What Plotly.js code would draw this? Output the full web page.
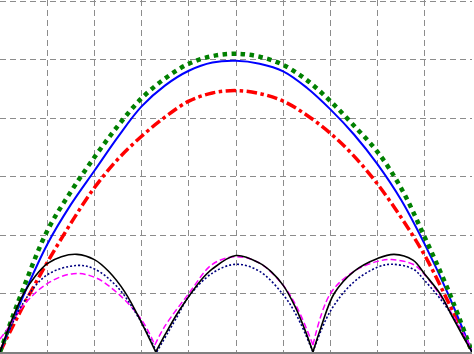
<!DOCTYPE html>
<html>
<head>
<meta charset="utf-8">
<script src="https://cdn.plot.ly/plotly-3.0.1.min.js"></script>
<style>html,body{margin:0;padding:0;background:#fff;}#chart{width:474px;height:354px;}</style>
</head>
<body>
<div id="chart"></div>
<script>
// Large arches
const bigX = [0, 0.5, 1, 1.5, 2, 2.5, 3, 3.5, 4, 4.5, 5, 5.5, 6, 6.5, 7, 7.5, 8, 8.5, 9, 9.5, 10];
const greenY = [0, 1.1, 2.07, 2.74, 3.33, 3.87, 4.34, 4.68, 4.93, 5.06, 5.10, 5.05, 4.91, 4.65, 4.29, 3.87, 3.42, 2.8, 1.96, 1.05, 0];
const blueY  = [0, 0.97, 1.84, 2.52, 3.1, 3.68, 4.2, 4.56, 4.81, 4.95, 4.98, 4.93, 4.80, 4.52, 4.15, 3.72, 3.21, 2.6, 1.84, 0.98, 0];
const redY   = [0, 0.8, 1.53, 2.2, 2.81, 3.3, 3.69, 4.02, 4.29, 4.43, 4.47, 4.42, 4.29, 4.05, 3.74, 3.35, 2.87, 2.3, 1.65, 0.85, 0];

// Small arches (null separates the three arches)
const blackX = [0, 0.25, 0.5, 0.75, 1, 1.3, 1.63, 2, 2.3, 2.65, 3, 3.3, null,
                3.3, 3.5, 3.75, 4, 4.25, 4.5, 5, 5.5, 5.75, 6, 6.25, 6.45, 6.63, null,
                6.63, 6.8, 7.08, 7.5, 8, 8.35, 8.75, 9, 9.32, 9.6, 9.8, 10];
const blackY = [0, 0.55, 1.0, 1.3, 1.51, 1.63, 1.67, 1.58, 1.38, 1.02, 0.5, 0, null,
                0, 0.3, 0.65, 0.95, 1.22, 1.42, 1.65, 1.52, 1.37, 1.14, 0.78, 0.4, 0, null,
                0, 0.42, 1.0, 1.38, 1.6, 1.67, 1.57, 1.33, 1.0, 0.58, 0.28, 0];

const navyX = [0, 0.5, 1, 1.63, 2, 2.5, 3, 3.32, null,
               3.32, 3.75, 4, 4.5, 5, 5.5, 6, 6.3, 6.63, null,
               6.63, 7, 7.5, 8, 8.3, 8.75, 9, 9.5, 10];
const navyY = [0, 0.85, 1.32, 1.48, 1.42, 1.1, 0.5, 0, null,
               0, 0.6, 0.95, 1.35, 1.5, 1.38, 0.98, 0.6, 0, null,
               0, 0.7, 1.2, 1.45, 1.5, 1.42, 1.22, 0.72, 0];

const magentaX = [0, 0.25, 0.5, 1, 1.55, 2, 2.5, 3, 3.28, null,
                  3.28, 3.5, 4, 4.5, 5, 5.5, 6, 6.3, 6.63, null,
                  6.63, 7, 7.5, 8, 8.3, 8.75, 9, 9.5, 10];
const magentaY = [0.22, 0.5, 0.8, 1.17, 1.34, 1.28, 1.0, 0.55, 0.12, null,
                  0.12, 0.45, 1.0, 1.5, 1.63, 1.52, 1.14, 0.75, 0.12, null,
                  0.12, 1.0, 1.38, 1.55, 1.58, 1.5, 1.32, 0.75, 0.05];

const traces = [
  {x: bigX, y: redY, mode: 'lines', line: {color: '#ff0000', width: 3.5, dash: 'dashdot', shape: 'spline', smoothing: 1}},
  {x: bigX, y: blueY, mode: 'lines', line: {color: '#0000ff', width: 2, shape: 'spline', smoothing: 1}},
  {x: bigX, y: greenY, mode: 'lines', line: {color: '#008000', width: 4.5, dash: '4.5px,4.5px', shape: 'spline', smoothing: 1}},
  {x: magentaX, y: magentaY, mode: 'lines', connectgaps: false, line: {color: '#ff00ff', width: 1.5, dash: '6px,3px', shape: 'spline', smoothing: 1}},
  {x: navyX, y: navyY, mode: 'lines', connectgaps: false, line: {color: '#000080', width: 1.6, dash: '2px,2px', shape: 'spline', smoothing: 1}},
  {x: blackX, y: blackY, mode: 'lines', connectgaps: false, line: {color: '#000000', width: 1.6, shape: 'spline', smoothing: 1}}
];

const layout = {
  width: 474, height: 354,
  margin: {l: 0, r: 2, t: 0, b: 2, pad: 0},
  paper_bgcolor: '#ffffff', plot_bgcolor: '#ffffff',
  showlegend: false,
  xaxis: {range: [0, 10], dtick: 1, tick0: 0, showgrid: true, gridcolor: '#8c8c8c', griddash: '6px,4px', gridwidth: 1,
          zeroline: false, showticklabels: false, ticks: '', showline: true, linecolor: '#808080', linewidth: 2},
  yaxis: {range: [0, 6.02], dtick: 1, tick0: 0, showgrid: true, gridcolor: '#8c8c8c', griddash: '6px,4px', gridwidth: 1,
          zeroline: false, showticklabels: false, ticks: '', showline: false}
};

Plotly.newPlot('chart', traces, layout, {staticPlot: true, displayModeBar: false});
</script>
</body>
</html>
